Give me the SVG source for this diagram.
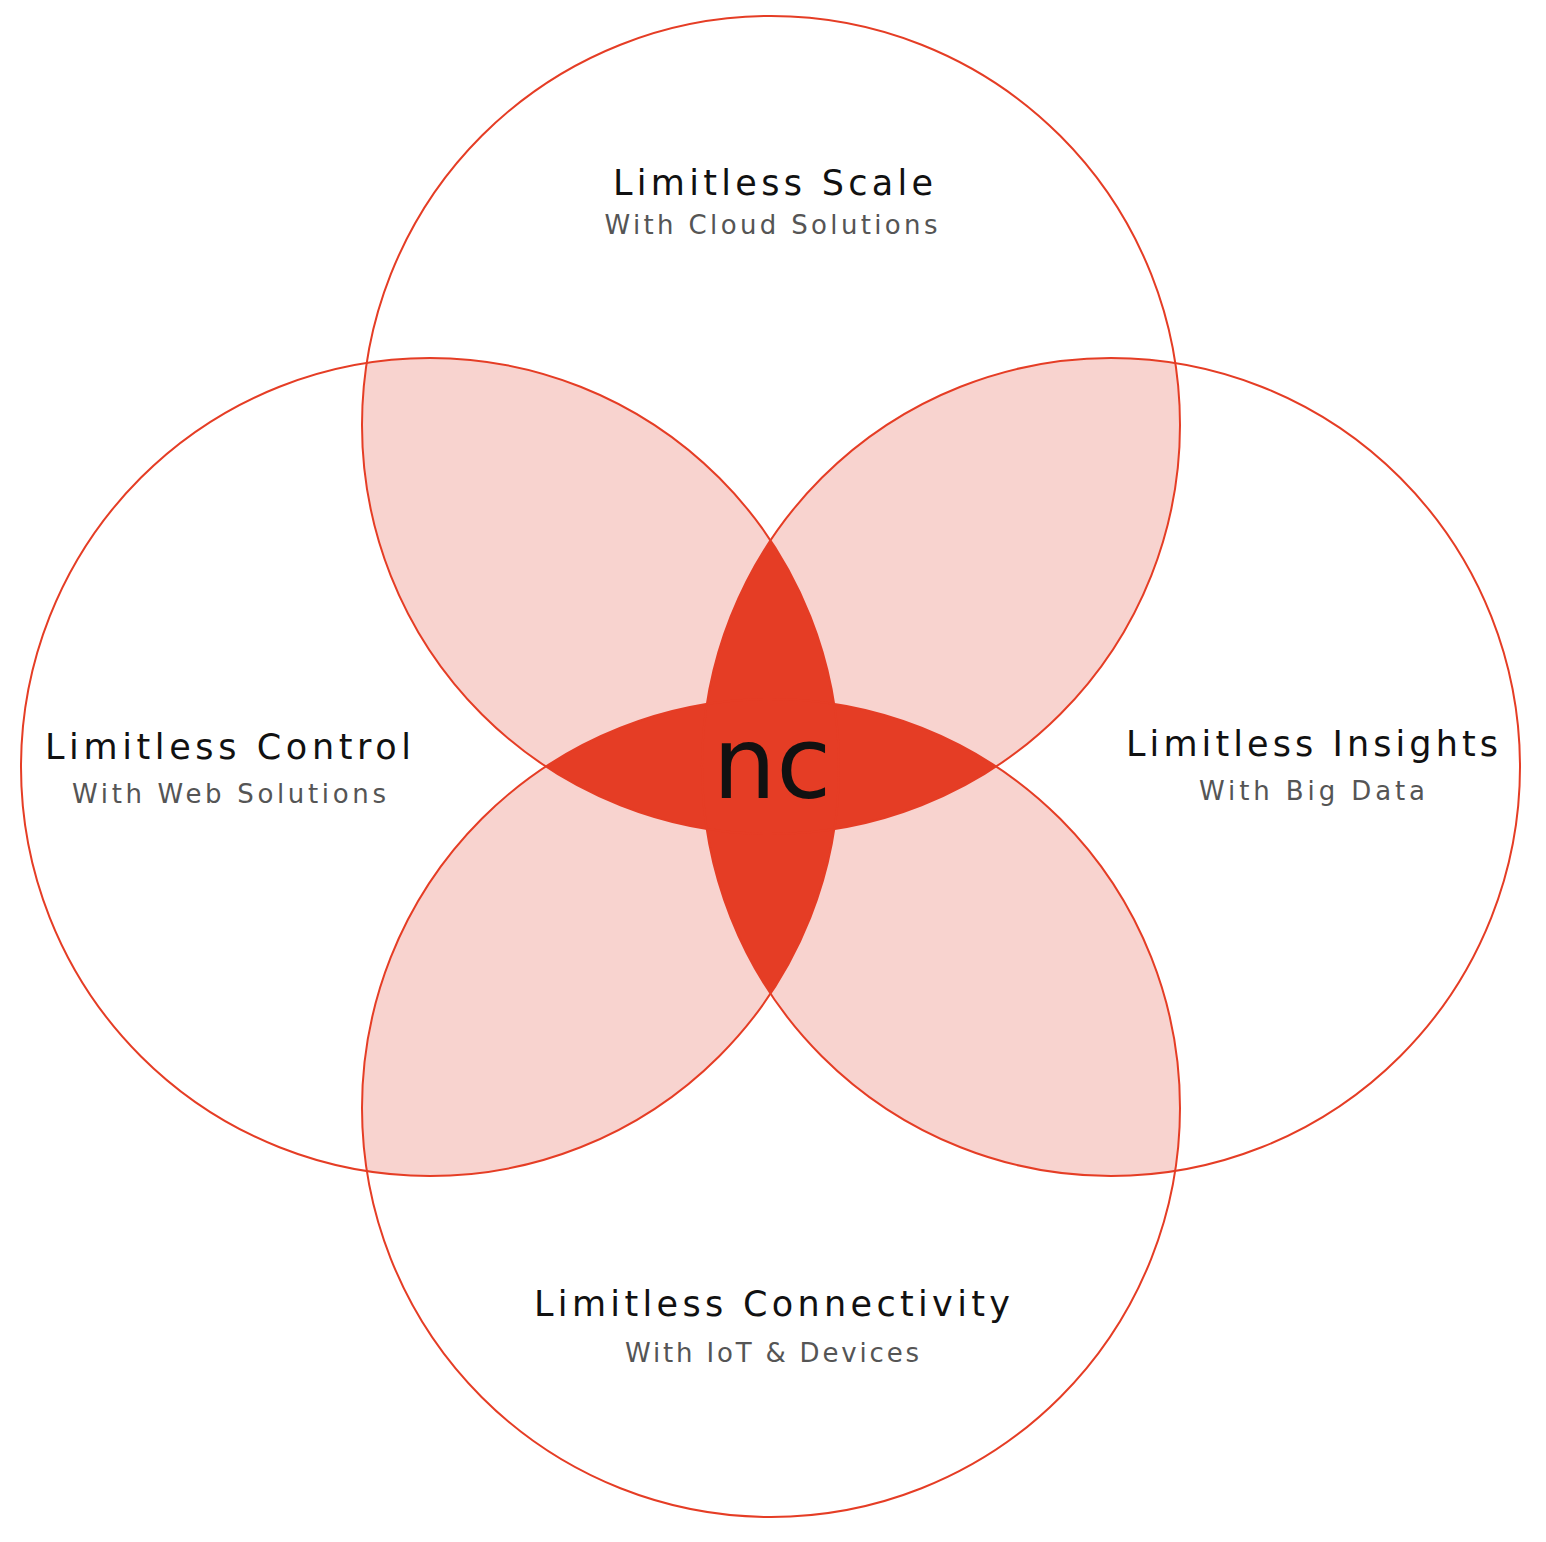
<svg xmlns="http://www.w3.org/2000/svg" width="1546" height="1542" viewBox="0 0 1546 1542">
<style>
.c{fill:none;stroke:#e53d25;stroke-width:2}
.p{fill:#f8d3cf}
.d{fill:#e53d25}
.t{font-family:"DejaVu Sans","Liberation Sans",sans-serif;font-size:35px;fill:#111;text-anchor:middle}
.s{font-family:"DejaVu Sans","Liberation Sans",sans-serif;font-size:26px;fill:#555;text-anchor:middle}
</style>
<defs>
<clipPath id="cT"><circle cx="771" cy="425" r="409"/></clipPath>
<clipPath id="cB"><circle cx="771" cy="1108" r="409"/></clipPath>
<clipPath id="cL"><circle cx="430" cy="767" r="409"/></clipPath>
<clipPath id="cR"><circle cx="1111" cy="767" r="409"/></clipPath>
</defs>
<g id="overlaps">
<g clip-path="url(#cL)"><circle class="p" cx="771" cy="425" r="409"/><circle class="p" cx="771" cy="1108" r="409"/></g>
<g clip-path="url(#cR)"><circle class="p" cx="771" cy="425" r="409"/><circle class="p" cx="771" cy="1108" r="409"/></g>
<g clip-path="url(#cT)"><circle class="d" cx="771" cy="1108" r="409"/></g>
<g clip-path="url(#cL)"><circle class="d" cx="1111" cy="767" r="409"/></g>
</g>
<g id="top"><circle class="c" cx="771" cy="425" r="409"/><text class="t" x="773" y="195" textLength="320" lengthAdjust="spacing">Limitless Scale</text><text class="s" x="771" y="234" textLength="333" lengthAdjust="spacing">With Cloud Solutions</text></g>
<g id="left"><circle class="c" cx="430" cy="767" r="409"/><text class="t" x="228" y="759" textLength="366" lengthAdjust="spacing">Limitless Control</text><text class="s" x="229" y="803" textLength="314" lengthAdjust="spacing">With Web Solutions</text></g>
<g id="right"><circle class="c" cx="1111" cy="767" r="409"/><text class="t" x="1312" y="756" textLength="372" lengthAdjust="spacing">Limitless Insights</text><text class="s" x="1312" y="800" textLength="226" lengthAdjust="spacing">With Big Data</text></g>
<g id="bottom"><circle class="c" cx="771" cy="1108" r="409"/><text class="t" x="772" y="1316" textLength="476" lengthAdjust="spacing">Limitless Connectivity</text><text class="s" x="772" y="1362" textLength="294" lengthAdjust="spacing">With IoT &amp; Devices</text></g>
<g id="center"><text x="772" y="798" style="font-family:'DejaVu Sans','Liberation Sans',sans-serif;font-size:100px;fill:#111;text-anchor:middle">nc</text></g>
</svg>
